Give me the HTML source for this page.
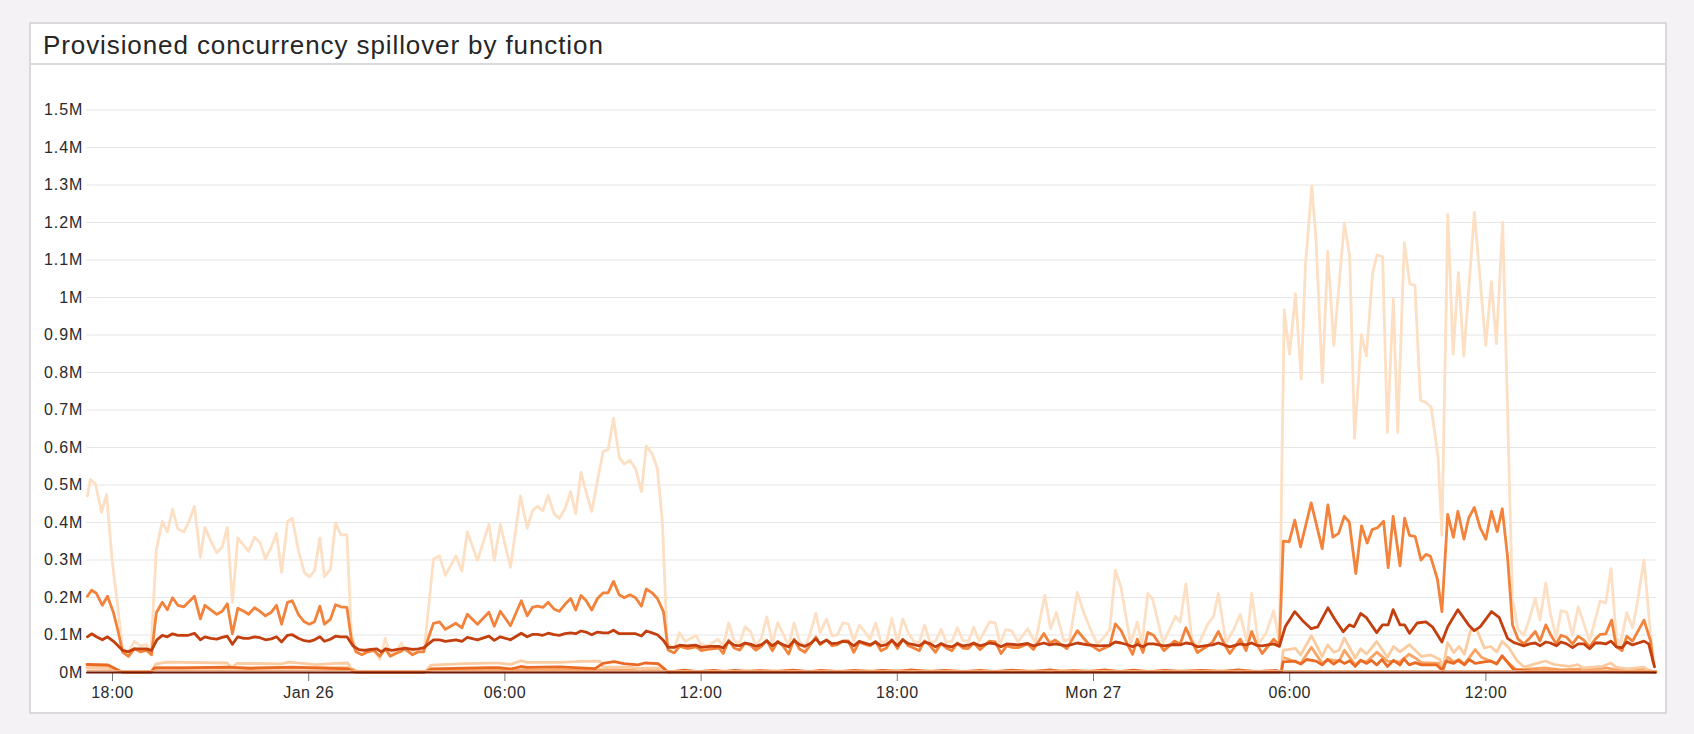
<!DOCTYPE html>
<html><head><meta charset="utf-8"><style>
html,body{margin:0;padding:0;width:1694px;height:734px;overflow:hidden;background:#f4f2f5;}
.card{position:absolute;left:29px;top:22px;width:1634px;height:688px;border:2px solid #d9d8dc;background:#fff;}
.title{position:absolute;left:0;top:0;width:1634px;height:39px;border-bottom:2px solid #d9d8dc;}
.title span{position:absolute;left:12px;top:5px;font:26px/32px "Liberation Sans",sans-serif;color:#262626;white-space:nowrap;letter-spacing:0.9px;}
svg{position:absolute;left:0;top:0;}
</style></head><body>
<div class="card"><div class="title"><span>Provisioned concurrency spillover by function</span></div></div>
<svg width="1694" height="734" viewBox="0 0 1694 734">
<g stroke="#e6e6e8" stroke-width="1.1"><line x1="86.5" x2="1656" y1="635.0" y2="635.0"/><line x1="86.5" x2="1656" y1="597.5" y2="597.5"/><line x1="86.5" x2="1656" y1="560.0" y2="560.0"/><line x1="86.5" x2="1656" y1="522.5" y2="522.5"/><line x1="86.5" x2="1656" y1="485.0" y2="485.0"/><line x1="86.5" x2="1656" y1="447.5" y2="447.5"/><line x1="86.5" x2="1656" y1="410.0" y2="410.0"/><line x1="86.5" x2="1656" y1="372.5" y2="372.5"/><line x1="86.5" x2="1656" y1="335.0" y2="335.0"/><line x1="86.5" x2="1656" y1="297.5" y2="297.5"/><line x1="86.5" x2="1656" y1="260.0" y2="260.0"/><line x1="86.5" x2="1656" y1="222.5" y2="222.5"/><line x1="86.5" x2="1656" y1="185.0" y2="185.0"/><line x1="86.5" x2="1656" y1="147.5" y2="147.5"/><line x1="86.5" x2="1656" y1="110.0" y2="110.0"/></g>
<g font-family="Liberation Sans, sans-serif" font-size="16" fill="#2a2a2a" text-anchor="end" letter-spacing="0.9"><text x="83.2" y="677.9">0M</text><text x="83.2" y="640.4">0.1M</text><text x="83.2" y="602.9">0.2M</text><text x="83.2" y="565.4">0.3M</text><text x="83.2" y="527.9">0.4M</text><text x="83.2" y="490.4">0.5M</text><text x="83.2" y="452.9">0.6M</text><text x="83.2" y="415.4">0.7M</text><text x="83.2" y="377.9">0.8M</text><text x="83.2" y="340.4">0.9M</text><text x="83.2" y="302.9">1M</text><text x="83.2" y="265.4">1.1M</text><text x="83.2" y="227.9">1.2M</text><text x="83.2" y="190.4">1.3M</text><text x="83.2" y="152.9">1.4M</text><text x="83.2" y="115.4">1.5M</text></g>
<g stroke="#777" stroke-width="1"><line x1="112.5" x2="112.5" y1="673" y2="681"/><line x1="308.7" x2="308.7" y1="673" y2="681"/><line x1="504.9" x2="504.9" y1="673" y2="681"/><line x1="701.1" x2="701.1" y1="673" y2="681"/><line x1="897.3" x2="897.3" y1="673" y2="681"/><line x1="1093.5" x2="1093.5" y1="673" y2="681"/><line x1="1289.7" x2="1289.7" y1="673" y2="681"/><line x1="1485.9" x2="1485.9" y1="673" y2="681"/></g>
<g font-family="Liberation Sans, sans-serif" font-size="16" fill="#2a2a2a" text-anchor="middle" letter-spacing="0.5"><text x="112.5" y="697.5">18:00</text><text x="308.7" y="697.5">Jan 26</text><text x="504.9" y="697.5">06:00</text><text x="701.1" y="697.5">12:00</text><text x="897.3" y="697.5">18:00</text><text x="1093.5" y="697.5">Mon 27</text><text x="1289.7" y="697.5">06:00</text><text x="1485.9" y="697.5">12:00</text></g>
<g fill="none" stroke-linejoin="round" stroke-linecap="round"><path d="M87.4 496.0 L90.4 479.5 L95.5 484.0 L101.5 512.4 L106.6 494.5 L112.0 558.9 L117.4 603.8 L122.5 648.8 L128.4 651.8 L134.4 641.3 L140.4 645.8 L146.4 644.3 L150.9 651.8 L156.3 549.9 L162.3 521.4 L167.4 531.9 L172.5 509.4 L177.9 528.9 L183.9 531.9 L188.4 522.9 L194.4 506.4 L200.4 557.4 L204.9 527.4 L210.8 540.9 L216.8 552.9 L222.2 546.9 L227.3 527.4 L232.4 602.3 L237.8 537.9 L243.8 545.4 L248.6 551.4 L254.6 537.3 L260.0 542.4 L265.4 558.9 L271.4 546.9 L276.5 533.4 L281.6 572.4 L287.5 521.4 L292.3 518.4 L298.3 549.9 L304.3 572.4 L309.4 576.9 L314.5 570.9 L319.9 537.9 L324.4 576.9 L330.4 569.4 L335.5 522.9 L340.9 534.9 L346.9 534.9 L351.4 633.8 L355.9 648.8 L361.9 650.3 L367.8 648.8 L373.8 650.3 L379.8 659.3 L385.2 638.3 L390.3 654.8 L396.3 651.8 L401.4 642.8 L405.0 650.3 L412.5 651.8 L418.5 648.8 L424.5 647.3 L433.5 558.9 L439.5 555.9 L445.4 575.4 L455.9 555.9 L461.9 570.9 L467.3 531.9 L477.5 560.4 L488.9 524.4 L494.3 560.4 L500.3 524.4 L510.5 567.3 L520.4 496.0 L527.2 528.3 L532.3 510.9 L537.4 506.4 L542.8 510.9 L548.2 495.4 L554.2 513.9 L559.3 518.4 L565.0 508.8 L570.7 491.6 L575.7 513.8 L581.0 472.5 L586.0 491.6 L591.7 511.5 L597.5 480.2 L603.2 451.5 L608.1 449.6 L613.5 418.3 L619.2 457.3 L624.2 464.1 L629.9 460.3 L635.6 468.7 L641.4 491.6 L646.3 445.8 L652.1 453.5 L657.4 468.7 L662.4 522.2 L667.3 644.4 L674.2 648.0 L679.6 632.7 L685.1 641.4 L696.0 635.4 L700.3 643.6 L708.0 645.8 L717.8 639.2 L723.2 645.8 L728.7 622.9 L734.1 640.3 L739.6 643.6 L745.0 626.7 L750.5 631.6 L755.9 645.8 L761.4 638.1 L766.8 616.9 L772.3 643.1 L777.7 622.9 L783.2 633.8 L788.6 645.8 L794.1 622.9 L799.5 641.4 L805.0 648.0 L810.4 632.7 L815.9 613.1 L820.0 632.7 L826.5 619.1 L832.0 636.0 L837.4 634.9 L842.9 622.9 L848.3 624.0 L853.8 641.4 L859.2 625.1 L864.7 631.6 L870.1 639.2 L875.6 622.9 L881.0 642.5 L886.5 641.4 L891.9 618.5 L897.4 642.5 L902.8 619.1 L908.3 632.7 L913.7 641.4 L919.2 642.5 L924.6 625.1 L930.1 642.5 L935.5 641.4 L941.0 629.4 L946.4 642.5 L951.9 641.4 L957.3 627.8 L962.8 640.3 L968.2 641.4 L973.7 627.2 L979.1 641.4 L989.5 622.0 L995.3 623.0 L1000.0 643.9 L1005.7 629.6 L1011.5 630.6 L1018.1 642.0 L1027.7 628.7 L1035.3 643.0 L1044.8 595.3 L1050.6 628.7 L1056.3 612.5 L1063.9 641.1 L1069.6 639.2 L1077.3 592.4 L1083.0 610.6 L1090.6 629.6 L1097.3 643.9 L1104.0 637.3 L1109.7 629.6 L1115.4 570.5 L1121.1 587.7 L1130.6 643.9 L1137.3 622.0 L1142.1 643.9 L1147.8 593.4 L1152.6 599.1 L1163.1 643.0 L1170.7 626.8 L1175.5 616.3 L1180.2 622.0 L1185.9 583.9 L1191.7 639.2 L1197.4 646.8 L1207.9 623.9 L1213.6 616.3 L1218.4 593.4 L1226.0 643.0 L1233.6 629.6 L1240.3 614.4 L1247.0 643.0 L1251.7 593.4 L1258.4 643.9 L1266.0 633.4 L1273.7 610.6 L1279.4 643.0 L1284.2 309.9 L1289.5 354.2 L1295.5 294.0 L1301.2 379.0 L1305.4 265.6 L1311.8 185.9 L1316.1 240.8 L1322.4 382.5 L1327.7 251.5 L1333.8 345.3 L1344.4 223.1 L1349.7 256.8 L1354.6 438.1 L1361.4 334.7 L1366.4 356.0 L1372.7 272.7 L1377.0 255.0 L1382.6 256.8 L1387.4 432.4 L1393.3 299.3 L1397.7 432.4 L1404.3 242.6 L1409.9 284.1 L1414.9 285.1 L1420.5 400.3 L1425.5 402.0 L1431.2 407.3 L1438.1 457.2 L1441.9 535.3 L1447.8 214.3 L1453.1 354.2 L1458.4 272.7 L1463.8 356.0 L1474.4 212.5 L1485.7 345.3 L1491.4 281.6 L1496.4 343.6 L1502.7 222.4 L1512.5 602.1 L1513.3 602.9 L1518.1 629.6 L1523.8 635.3 L1529.6 618.2 L1535.3 598.2 L1540.0 620.1 L1545.8 582.9 L1550.5 614.4 L1556.3 637.3 L1561.0 610.6 L1566.7 612.1 L1572.5 635.3 L1578.2 606.7 L1583.9 623.9 L1589.6 641.1 L1600.1 601.0 L1605.8 602.9 L1611.0 568.6 L1616.3 637.3 L1620.1 645.8 L1626.8 612.5 L1632.5 627.7 L1637.3 602.9 L1644.0 560.0 L1650.6 635.3 L1654.5 665.9" stroke="#fddfc4" stroke-width="2.8"/><path d="M87.0 667.8 L108.0 668.0 L122.0 672.0 L150.0 672.0 L155.0 668.0 L350.0 668.0 L358.0 672.0 L425.0 672.0 L433.0 670.0 L660.0 670.0 L668.0 672.0 L1279.0 672.0 L1281.5 671.0 L1283.0 657.2 L1295.3 661.8 L1300.7 663.4 L1311.4 647.3 L1322.2 663.4 L1327.6 659.5 L1339.1 661.1 L1344.4 650.3 L1355.2 664.9 L1360.6 660.7 L1366.7 661.8 L1376.7 652.2 L1387.4 661.1 L1400.0 661.8 L1409.2 654.2 L1415.3 658.0 L1421.5 662.6 L1439.9 663.4 L1443.0 670.3 L1447.6 657.2 L1453.7 661.8 L1459.1 659.5 L1464.5 664.1 L1475.2 649.6 L1481.4 657.2 L1490.6 661.1 L1496.7 663.4 L1502.1 656.5 L1509.0 663.4 L1516.7 670.3 L1520.0 669.6 L1544.8 668.0 L1561.3 670.0 L1606.8 668.0 L1615.0 669.6 L1644.0 668.8 L1655.5 672.4" stroke="#f9a464" stroke-width="2.8"/><path d="M87.0 667.8 L108.0 667.5 L122.0 672.0 L150.0 672.0 L151.1 672.2 L156.1 663.8 L167.6 662.1 L227.1 663.0 L232.1 667.9 L237.1 663.3 L281.7 663.8 L288.3 662.1 L316.4 664.6 L336.2 663.3 L347.8 663.0 L352.8 672.2 L425.0 672.0 L431.0 665.2 L465.0 663.6 L489.0 663.2 L499.0 663.2 L511.0 664.4 L521.0 660.7 L527.0 662.3 L560.0 662.3 L581.0 661.3 L600.0 661.2 L603.0 667.2 L631.0 667.2 L638.0 668.5 L658.0 667.8 L663.0 670.5 L668.0 672.0 L700.0 671.5 L760.0 670.5 L820.0 671.5 L900.0 670.5 L980.0 671.5 L1060.0 670.5 L1140.0 671.5 L1200.0 670.5 L1279.0 671.5 L1281.5 671.0 L1283.0 650.3 L1295.3 648.4 L1300.7 654.9 L1311.4 635.7 L1322.2 656.5 L1327.6 645.0 L1333.7 652.2 L1339.1 650.3 L1344.4 638.0 L1355.2 658.0 L1360.6 648.8 L1366.7 653.8 L1376.7 641.5 L1387.4 657.2 L1393.6 646.5 L1400.0 651.9 L1409.2 644.6 L1421.5 656.5 L1430.7 654.9 L1439.9 659.5 L1443.0 668.0 L1447.6 642.7 L1453.7 652.6 L1459.1 646.5 L1464.5 654.2 L1470.6 630.4 L1476.7 629.6 L1484.4 648.0 L1490.6 646.5 L1496.7 651.9 L1502.1 641.5 L1509.0 648.0 L1516.7 660.3 L1524.3 667.2 L1534.9 663.8 L1545.6 661.0 L1554.7 664.7 L1569.6 666.3 L1577.9 664.7 L1582.8 668.0 L1602.6 666.3 L1610.9 663.0 L1615.9 667.1 L1627.4 668.8 L1644.0 667.1 L1648.9 671.3 L1655.5 672.4" stroke="#fbcca2" stroke-width="2.8"/><path d="M87.0 664.5 L108.0 665.0 L122.0 672.0 L150.0 672.0 L151.1 672.2 L154.4 667.9 L184.2 667.9 L227.1 667.1 L250.3 668.3 L291.6 667.1 L347.8 668.8 L356.1 672.2 L425.0 672.0 L431.0 669.0 L465.0 668.1 L489.0 667.7 L499.0 667.7 L511.0 669.0 L521.0 666.5 L527.0 667.3 L560.0 666.9 L595.0 668.6 L603.0 663.3 L614.0 661.6 L624.0 663.7 L638.0 664.8 L645.0 663.0 L658.0 663.7 L663.0 667.6 L668.0 672.0 L672.0 671.6 L684.4 670.2 L698.1 671.6 L714.1 670.3 L724.8 671.6 L734.9 670.5 L747.5 671.6 L759.8 670.6 L774.5 671.6 L792.9 670.2 L809.3 671.6 L820.8 670.3 L839.5 671.6 L854.7 670.4 L871.4 671.6 L882.1 670.4 L898.0 671.6 L911.0 669.8 L929.7 671.6 L944.4 670.4 L963.2 671.6 L980.3 670.5 L994.3 671.6 L1012.3 670.2 L1031.6 671.6 L1050.4 669.9 L1061.8 671.6 L1073.9 670.6 L1088.3 671.6 L1104.6 670.0 L1119.6 671.6 L1133.5 670.1 L1149.4 671.6 L1165.2 670.5 L1182.0 671.6 L1201.3 670.5 L1221.2 671.6 L1237.9 669.9 L1256.5 671.6 L1276.2 670.5 L1279.0 671.5 L1281.5 671.0 L1283.0 661.8 L1295.3 661.1 L1300.7 664.1 L1306.8 659.5 L1316.0 661.1 L1322.2 664.9 L1327.6 659.5 L1333.7 664.1 L1339.1 660.3 L1344.4 663.4 L1349.8 660.7 L1355.2 666.4 L1360.6 660.3 L1366.7 663.4 L1371.3 660.3 L1376.7 664.9 L1382.0 659.5 L1387.4 666.4 L1393.6 660.3 L1400.0 664.9 L1403.8 658.8 L1409.2 664.9 L1415.3 662.6 L1421.5 664.9 L1436.8 664.9 L1442.2 670.3 L1446.0 661.1 L1453.7 663.4 L1458.3 660.3 L1464.5 664.9 L1469.1 659.5 L1475.2 663.4 L1484.4 661.8 L1490.6 661.1 L1496.7 664.1 L1502.1 655.7 L1509.0 664.1 L1513.6 669.5 L1530.0 671.0 L1656.0 672.0" stroke="#ea6a24" stroke-width="2.8"/><path d="M87.4 596.3 L91.6 590.3 L96.4 593.3 L102.4 605.3 L107.5 596.3 L113.5 612.8 L118.0 630.8 L122.5 651.8 L128.4 656.3 L134.4 648.8 L140.4 651.8 L146.4 650.3 L151.5 654.8 L156.3 612.8 L162.3 602.3 L167.4 609.8 L172.5 597.8 L177.9 605.3 L183.9 606.8 L188.4 602.3 L194.4 596.3 L200.4 618.8 L204.9 605.3 L210.8 609.8 L216.8 614.3 L222.2 611.3 L227.3 603.8 L232.4 633.8 L237.8 608.3 L243.8 611.3 L248.6 614.3 L254.6 607.7 L260.0 611.3 L265.4 615.8 L271.4 612.2 L276.5 605.3 L281.6 624.2 L287.5 602.3 L292.3 600.8 L298.3 614.3 L304.3 621.8 L309.4 624.2 L314.5 621.8 L319.9 606.2 L324.4 624.2 L330.4 619.4 L335.5 604.7 L340.9 606.8 L346.9 607.4 L351.4 639.8 L355.9 651.8 L361.9 654.8 L367.8 651.8 L373.8 650.3 L379.8 656.3 L385.2 648.8 L390.3 656.3 L396.3 653.3 L401.4 651.2 L405.0 648.8 L412.5 654.8 L418.5 651.8 L423.6 651.8 L433.5 623.3 L439.5 621.8 L445.4 629.3 L455.9 623.3 L461.9 627.8 L467.3 614.3 L477.5 624.2 L488.9 612.2 L494.3 626.3 L500.3 611.3 L510.5 625.7 L521.3 600.8 L527.2 615.8 L532.3 607.4 L537.4 606.2 L542.8 607.4 L548.2 602.3 L554.2 609.2 L559.3 611.3 L565.0 604.3 L570.7 598.5 L575.7 610.0 L581.0 595.5 L586.0 600.5 L591.7 610.0 L597.5 598.5 L603.2 592.8 L608.1 592.8 L613.5 581.4 L619.2 594.7 L624.2 597.8 L629.9 594.7 L635.6 597.8 L641.4 606.2 L646.3 589.0 L652.1 592.8 L657.4 598.5 L663.5 611.9 L668.1 650.1 L674.2 652.9 L679.6 646.3 L687.2 648.5 L696.0 646.9 L701.4 650.7 L710.1 649.0 L718.9 648.0 L723.2 653.4 L728.7 640.3 L734.1 648.0 L739.6 650.1 L745.0 643.1 L750.5 645.2 L755.9 650.1 L761.4 646.3 L766.8 640.3 L772.3 650.7 L777.7 641.4 L783.2 646.3 L788.6 654.0 L794.1 639.2 L799.5 649.0 L805.0 652.3 L810.4 644.7 L815.9 637.1 L820.0 644.7 L826.5 639.8 L832.0 645.8 L837.4 644.7 L842.9 640.9 L848.3 640.9 L853.8 652.3 L859.2 642.0 L864.7 644.1 L870.1 645.8 L875.6 641.4 L881.0 650.7 L886.5 648.0 L891.9 639.8 L897.4 648.5 L902.8 639.2 L908.3 645.8 L913.7 648.0 L919.2 650.7 L924.6 640.9 L930.1 645.8 L935.5 652.3 L941.0 643.6 L946.4 648.0 L951.9 650.7 L957.3 643.1 L962.8 648.0 L968.2 648.5 L973.7 643.1 L980.0 649.6 L989.5 641.1 L995.3 642.0 L1001.0 653.5 L1006.7 645.8 L1013.4 647.7 L1018.1 647.7 L1027.7 643.9 L1033.4 649.6 L1043.9 633.4 L1049.6 643.0 L1055.3 640.1 L1066.8 648.7 L1077.3 630.6 L1087.7 643.0 L1099.2 650.6 L1109.7 645.8 L1115.4 623.9 L1121.1 630.6 L1126.8 643.0 L1132.6 654.4 L1137.3 639.2 L1143.0 652.5 L1147.8 632.5 L1153.5 635.3 L1164.0 650.6 L1174.5 641.1 L1180.2 643.9 L1185.9 627.7 L1191.7 641.1 L1197.4 652.5 L1207.9 645.8 L1212.6 642.0 L1218.4 631.5 L1224.1 643.9 L1229.8 653.5 L1240.3 639.2 L1246.0 650.6 L1251.7 631.5 L1256.5 643.9 L1262.2 653.5 L1273.7 639.2 L1279.4 644.9 L1283.3 541.1 L1289.1 541.8 L1294.8 520.1 L1300.5 546.8 L1311.2 502.9 L1322.2 548.7 L1327.9 504.8 L1332.9 537.2 L1338.6 533.4 L1344.3 516.3 L1349.3 522.0 L1355.8 573.5 L1361.5 525.8 L1367.2 543.0 L1372.2 529.6 L1377.5 527.7 L1383.6 521.2 L1388.2 567.7 L1393.1 516.3 L1400.0 565.8 L1404.6 518.2 L1409.5 535.3 L1415.2 536.5 L1421.0 560.1 L1425.9 554.4 L1430.5 556.3 L1437.4 579.2 L1441.9 611.6 L1447.7 514.4 L1453.4 537.2 L1457.9 511.3 L1464.0 539.2 L1468.6 518.2 L1474.3 507.5 L1480.1 527.7 L1485.8 539.2 L1491.5 511.3 L1497.2 531.5 L1502.2 508.7 L1507.5 556.3 L1512.5 624.9 L1518.1 639.2 L1523.8 643.9 L1529.6 638.2 L1535.3 631.5 L1540.0 641.1 L1545.8 624.9 L1550.5 634.4 L1556.3 643.9 L1561.0 635.3 L1566.7 637.3 L1572.5 643.9 L1578.2 636.3 L1583.9 640.1 L1589.6 646.8 L1595.3 639.2 L1600.1 634.4 L1605.8 633.8 L1611.6 620.1 L1616.3 646.8 L1622.0 650.6 L1626.8 636.3 L1632.5 641.1 L1644.0 620.1 L1650.6 641.1 L1653.1 662.0" stroke="#f3823a" stroke-width="2.8"/><path d="M87.4 636.8 L91.6 633.8 L96.4 636.8 L102.4 639.8 L107.5 636.8 L113.5 641.3 L122.5 650.3 L128.4 651.8 L134.4 648.8 L140.4 648.8 L146.4 648.8 L151.5 650.3 L156.9 639.8 L162.3 635.3 L167.4 636.8 L172.5 633.8 L177.9 635.3 L183.9 635.3 L188.4 635.3 L194.4 633.2 L200.4 639.8 L204.9 636.8 L210.8 638.3 L216.8 639.2 L222.2 637.4 L227.3 636.2 L232.4 644.3 L237.8 636.8 L243.8 638.3 L248.6 638.3 L254.6 636.8 L260.0 637.7 L265.4 639.8 L271.4 638.9 L276.5 636.8 L281.6 641.9 L287.5 635.3 L292.3 634.7 L298.3 638.3 L304.3 640.7 L309.4 641.3 L314.5 639.8 L319.9 636.8 L324.4 641.3 L330.4 639.2 L335.5 636.2 L340.9 636.8 L346.9 636.8 L352.9 645.8 L358.9 649.7 L364.9 650.3 L370.8 649.4 L376.8 648.8 L381.3 651.8 L385.8 648.8 L391.8 650.3 L397.8 649.4 L405.0 648.2 L412.5 649.4 L418.5 648.8 L423.6 647.9 L433.5 639.8 L439.5 639.8 L445.4 641.3 L455.9 639.8 L461.9 641.3 L467.3 637.4 L477.5 639.8 L488.9 636.2 L494.3 640.4 L500.3 636.8 L510.5 639.8 L521.3 633.2 L527.2 636.8 L532.3 634.4 L537.4 634.4 L542.8 635.3 L548.2 633.2 L554.2 634.7 L559.3 635.3 L565.0 633.7 L570.7 632.9 L575.7 633.7 L581.0 631.0 L586.0 632.1 L591.7 634.8 L597.5 632.1 L603.2 632.9 L608.1 632.9 L613.5 630.2 L619.2 633.7 L624.2 633.7 L629.9 633.7 L635.6 633.7 L641.4 636.0 L646.3 631.0 L652.1 632.9 L657.4 634.8 L663.5 640.5 L668.1 647.4 L674.2 647.4 L679.6 645.2 L687.2 645.8 L696.0 645.2 L701.4 647.4 L710.1 646.3 L718.9 646.3 L723.2 648.0 L728.7 641.4 L734.1 645.2 L739.6 645.8 L745.0 643.1 L750.5 644.1 L755.9 646.3 L761.4 644.7 L766.8 640.9 L772.3 645.8 L777.7 642.0 L783.2 644.7 L788.6 646.9 L794.1 640.3 L799.5 644.7 L805.0 646.3 L810.4 643.6 L815.9 638.7 L820.0 643.6 L826.5 640.3 L832.0 643.6 L837.4 643.1 L842.9 641.4 L848.3 642.0 L853.8 645.8 L859.2 641.4 L864.7 643.1 L870.1 644.7 L875.6 642.0 L881.0 645.8 L886.5 644.7 L891.9 640.3 L897.4 645.8 L902.8 639.8 L908.3 643.6 L913.7 644.7 L919.2 645.8 L924.6 642.0 L930.1 643.6 L935.5 646.9 L941.0 643.6 L946.4 645.8 L951.9 646.9 L957.3 643.6 L962.8 645.8 L968.2 645.2 L973.7 643.1 L980.0 645.8 L989.5 643.0 L995.3 643.9 L1001.0 646.8 L1006.7 643.9 L1013.4 644.5 L1018.1 644.9 L1027.7 643.5 L1033.4 645.8 L1043.9 643.0 L1049.6 644.9 L1055.3 643.9 L1066.8 645.8 L1077.3 643.0 L1087.7 644.9 L1099.2 645.8 L1109.7 645.3 L1115.4 642.0 L1121.1 643.0 L1126.8 644.5 L1132.6 646.8 L1137.3 644.5 L1143.0 646.8 L1147.8 643.9 L1153.5 643.9 L1164.0 645.8 L1174.5 644.5 L1180.2 644.9 L1185.9 643.0 L1191.7 643.9 L1197.4 646.8 L1207.9 645.3 L1212.6 644.9 L1218.4 643.0 L1224.1 644.9 L1229.8 646.8 L1240.3 643.9 L1246.0 644.9 L1251.7 643.0 L1256.5 645.3 L1262.2 645.8 L1273.7 643.9 L1279.4 646.4 L1285.2 626.8 L1294.8 611.6 L1302.4 620.4 L1311.2 628.7 L1317.7 626.8 L1327.9 607.8 L1334.8 619.2 L1343.2 631.8 L1349.3 624.9 L1353.9 626.8 L1360.7 613.5 L1366.1 617.3 L1376.7 632.6 L1382.5 624.9 L1388.2 624.9 L1393.1 609.7 L1400.0 624.9 L1404.6 624.9 L1409.5 633.3 L1417.2 623.0 L1425.9 621.9 L1432.4 626.8 L1441.9 642.1 L1447.7 626.8 L1457.9 609.7 L1468.6 624.9 L1474.3 630.7 L1480.1 626.8 L1491.5 611.6 L1499.1 617.3 L1507.5 638.3 L1514.4 642.9 L1515.3 643.0 L1523.8 645.8 L1529.6 643.9 L1535.3 643.0 L1540.0 645.8 L1545.8 642.0 L1550.5 643.0 L1556.3 645.8 L1561.0 642.0 L1566.7 643.9 L1572.5 647.7 L1578.2 643.9 L1583.9 643.9 L1589.6 648.7 L1595.3 643.0 L1601.1 643.0 L1605.8 643.9 L1611.0 641.1 L1616.3 646.8 L1622.0 647.7 L1626.8 642.0 L1632.5 644.9 L1638.3 643.0 L1644.0 641.1 L1648.7 643.9 L1654.5 666.8" stroke="#c43f0e" stroke-width="2.8"/><path d="M87.0 670.6 L1656.0 670.6" stroke="#f5ae7a" stroke-width="1.3"/><path d="M87.0 672.4 L1655.5 672.4" stroke="#6e1a0a" stroke-width="2.0"/></g>
</svg>
</body></html>
